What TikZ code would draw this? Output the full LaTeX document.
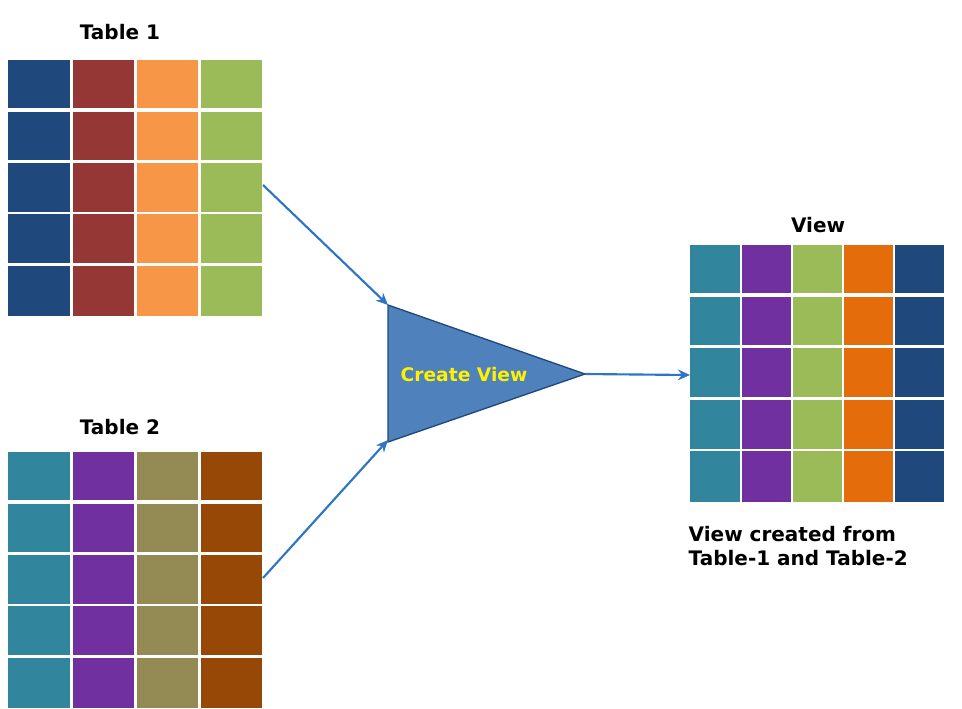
\documentclass[tikz,border=0pt]{standalone}
\usepackage{fontspec}
\setmainfont{DejaVu Sans}
\usetikzlibrary{arrows.meta}
\definecolor{cnavy}{HTML}{1F497D}
\definecolor{cred}{HTML}{953735}
\definecolor{corange}{HTML}{F79646}
\definecolor{cgreen}{HTML}{9BBB59}
\definecolor{cteal}{HTML}{31859C}
\definecolor{cpurple}{HTML}{7030A0}
\definecolor{colive}{HTML}{948A54}
\definecolor{cbrown}{HTML}{974806}
\definecolor{cdorange}{HTML}{E46C0A}
\definecolor{ctri}{HTML}{4F81BD}
\definecolor{carr}{HTML}{2E75C6}
% grid: x0, y0, column width, height, number of columns, list of colours
\newcommand{\tablegrid}[6]{%
  \foreach \c [count=\i from 0] in {#6}
    {\fill[\c] ({#1+\i*#3},#2) rectangle ({#1+(\i+1)*#3},{#2+#4});}
  \foreach \i in {1,...,#5}
    {\draw[white, line width=2pt] ({#1+\i*#3},#2) -- ({#1+\i*#3},{#2+#4});}
  \draw[white, line width=3.5pt] (#1,{#2+0.195*#4}) -- ++({#5*#3},0);
  \foreach \k in {2,3,4}
    {\draw[white, line width=2pt] (#1,{#2+0.195*#4+(\k-1)*0.201*#4}) -- ++({#5*#3},0);}
}
\begin{document}
\begin{tikzpicture}[x=0.75pt, y=-0.75pt,
    title/.style = {font=\bfseries\fontsize{15}{18}\selectfont},
    arr/.style = {draw=carr, line width=1.6pt, -{Stealth[length=9pt, width=8pt]}},
  ]
  \useasboundingbox (0,0) rectangle (962,708);
  \begin{scope}
    \clip (0,0) rectangle (962,708);
    \tablegrid{8}{60}{63.75}{256}{4}{cnavy,cred,corange,cgreen}
    \tablegrid{8}{452}{63.75}{256}{4}{cteal,cpurple,colive,cbrown}
    \tablegrid{690}{245}{51}{257}{5}{cteal,cpurple,cgreen,cdorange,cnavy}
  \end{scope}

  \node (T1) [title] at (120,32) {Table 1};
  \node (T2) [title] at (120,427) {Table 2};
  \node (V) [title] at (818,225) {View};
  \node (VC) [title, align=left, anchor=north west] at (684,522) {View created from\\Table-1 and Table-2};

  \coordinate (A) at (388,305);
  \coordinate (B) at (388,442);
  \coordinate (C) at (585,374);
  \draw[fill=ctri, draw=cnavy, line width=1pt] (A) -- (C) -- (B) -- cycle;
  \node (CV) [font=\bfseries\fontsize{14}{16}\selectfont, text=yellow] at (464,375) {Create View};

  \coordinate (S1) at (263,185);
  \coordinate (S2) at (263,578);
  \coordinate (E1) at (388,305);
  \coordinate (E2) at (388,440);
  \coordinate (VIN) at (690,375);
  \path[arr] (S1) -- (E1);
  \path[arr] (S2) -- (E2);
  \path[arr] (C) -- (VIN);
\end{tikzpicture}
\end{document}
